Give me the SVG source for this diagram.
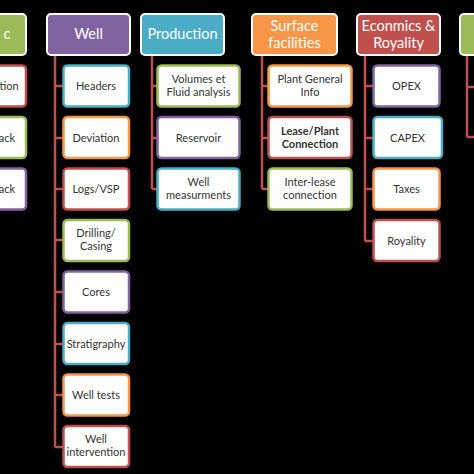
<svg xmlns="http://www.w3.org/2000/svg" width="474" height="474" viewBox="0 0 474 474">
<style>
.hd{stroke:#fff;stroke-width:2}
.ch{fill:#fff;stroke-width:2.5}
.ht{font-family:Lato,"Open Sans","Liberation Sans",sans-serif;font-size:14.5px;fill:#fff;text-anchor:middle}
.ct{font-family:Lato,"Open Sans","Liberation Sans",sans-serif;font-size:11px;fill:#333;text-anchor:middle}
.cn{stroke:#C0504D;stroke-width:2.5;fill:none}
.pu{stroke:#8064A2}.te{stroke:#4BACC6}.or{stroke:#F79646}.re{stroke:#C0504D}.gr{stroke:#9BBB59}
</style>
<rect width="474" height="474" fill="#000"/>
<g id="connectors">
<path class="cn" d="M55 55V447M55 86H63M55 138H63M55 189H63M55 240H63M55 292H63M55 344H63M55 395H63M55 447H63"/>
<path class="cn" d="M152 55V189M152 86H157M152 138H157M152 189H157"/>
<path class="cn" d="M262 55V189M262 86H268M262 138H268M262 189H268"/>
<path class="cn" d="M365 55V241M365 86H373M365 138H373M365 189H373M365 241H373"/>
<path class="cn" d="M467 55V137M467 87H474M467 137H474"/>
</g>
<g id="col0">
<rect class="hd" x="-20" y="14" width="46" height="41" rx="4" fill="#9BBB59"/>
<text class="ht" x="7" y="39" text-anchor="middle">c</text>
<rect class="ch re" x="-20" y="65.5" width="46" height="41" rx="4"/>
<text class="ct" x="9" y="90">tion</text>
<rect class="ch gr" x="-20" y="117" width="46" height="41" rx="4"/>
<text class="ct" x="7" y="142">ack</text>
<rect class="ch pu" x="-20" y="168.5" width="46" height="41" rx="4"/>
<text class="ct" x="7" y="193">ack</text>
</g>
<g id="well">
<rect class="hd" x="47" y="14" width="83" height="41" rx="4" fill="#8064A2"/>
<text class="ht" x="88.5" y="39">Well</text>
</g>
<g id="headers"><rect class="ch te" x="63.5" y="65.5" width="65.5" height="41" rx="4"/><text class="ct" x="96" y="90">Headers</text></g>
<g id="deviation"><rect class="ch or" x="63.5" y="117" width="65.5" height="41" rx="4"/><text class="ct" x="96" y="141.5">Deviation</text></g>
<g id="logs"><rect class="ch re" x="63.5" y="168.5" width="65.5" height="41" rx="4"/><text class="ct" x="96" y="193">Logs/VSP</text></g>
<g id="drilling"><rect class="ch gr" x="63.5" y="220" width="65.5" height="41" rx="4"/><text class="ct" x="96" y="237">Drilling/</text><text class="ct" x="96" y="250">Casing</text></g>
<g id="cores"><rect class="ch pu" x="63.5" y="271.5" width="65.5" height="41" rx="4"/><text class="ct" x="96" y="296">Cores</text></g>
<g id="strat"><rect class="ch te" x="63.5" y="323" width="65.5" height="41" rx="4"/><text class="ct" x="96" y="347.5">Stratigraphy</text></g>
<g id="welltests"><rect class="ch or" x="63.5" y="374.5" width="65.5" height="41" rx="4"/><text class="ct" x="96" y="399">Well tests</text></g>
<g id="wellint"><rect class="ch re" x="63.5" y="426" width="65.5" height="41" rx="4"/><text class="ct" x="96" y="443">Well</text><text class="ct" x="96" y="456">intervention</text></g>
<g id="production">
<rect class="hd" x="141" y="14" width="83" height="41" rx="4" fill="#4BACC6"/>
<text class="ht" x="182.5" y="39">Production</text>
</g>
<g id="volumes"><rect class="ch gr" x="157.5" y="65.5" width="82" height="41" rx="4"/><text class="ct" x="198.5" y="83">Volumes et</text><text class="ct" x="198.5" y="96">Fluid analysis</text></g>
<g id="reservoir"><rect class="ch pu" x="157.5" y="117" width="82" height="41" rx="4"/><text class="ct" x="198.5" y="141.5">Reservoir</text></g>
<g id="wellmeas"><rect class="ch te" x="157.5" y="168.5" width="82" height="41" rx="4"/><text class="ct" x="198.5" y="186">Well</text><text class="ct" x="198.5" y="199">measurments</text></g>
<g id="surface">
<rect class="hd" x="252" y="14" width="85" height="41" rx="4" fill="#F79646"/>
<text class="ht" x="294.5" y="31">Surface</text>
<text class="ht" x="294.5" y="48">facilities</text>
</g>
<g id="plant"><rect class="ch or" x="268.5" y="65.5" width="83" height="41" rx="4"/><text class="ct" x="310" y="83">Plant General</text><text class="ct" x="310" y="96">Info</text></g>
<g id="lease"><rect class="ch re" x="268.5" y="117" width="83" height="41" rx="4"/><text class="ct" x="310" y="135" font-weight="bold">Lease/Plant</text><text class="ct" x="310" y="148" font-weight="bold">Connection</text></g>
<g id="interlease"><rect class="ch gr" x="268.5" y="168.5" width="83" height="41" rx="4"/><text class="ct" x="310" y="186">Inter-lease</text><text class="ct" x="310" y="199">connection</text></g>
<g id="econ">
<rect class="hd" x="357" y="14" width="83" height="41" rx="4" fill="#C0504D"/>
<text class="ht" x="398.5" y="31">Econmics &amp;</text>
<text class="ht" x="398.5" y="48">Royality</text>
</g>
<g id="opex"><rect class="ch pu" x="373.5" y="65.5" width="66" height="41" rx="4"/><text class="ct" x="406.5" y="90">OPEX</text></g>
<g id="capex"><rect class="ch te" x="373.5" y="117" width="68.5" height="41" rx="4"/><text class="ct" x="407.5" y="141.5">CAPEX</text></g>
<g id="taxes"><rect class="ch or" x="373.5" y="168.5" width="66" height="41" rx="4"/><text class="ct" x="406.5" y="193">Taxes</text></g>
<g id="royality"><rect class="ch re" x="373.5" y="220" width="66" height="41" rx="4"/><text class="ct" x="406.5" y="244.5">Royality</text></g>
<g id="col6">
<rect class="hd" x="460" y="14" width="40" height="41" rx="4" fill="#9BBB59"/>
</g>
</svg>
